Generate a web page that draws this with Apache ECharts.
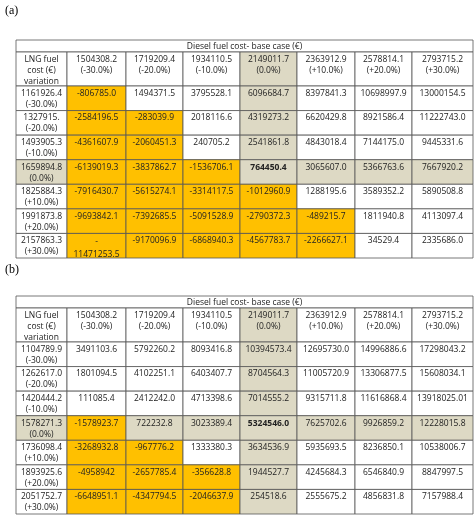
<!DOCTYPE html>
<html>
<head>
<meta charset="utf-8">
<script src="https://cdn.jsdelivr.net/npm/echarts@6/dist/echarts.min.js"></script>
<style>html,body{margin:0;padding:0;background:#fff}#chart{width:474px;height:516px}</style>
</head>
<body>
<div id="chart"></div>
<script>
var title = 'Diesel fuel cost- base case (€)';
var corner = 'LNG fuel\ncost (€)\nvariation';
var dieselCols = ['1504308.2\n(-30.0%)', '1719209.4\n(-20.0%)', '1934110.5\n(-10.0%)', '2149011.7\n(0.0%)',
    '2363912.9\n(+10.0%)', '2578814.1\n(+20.0%)', '2793715.2\n(+30.0%)'];
var lngRowsA = ['1161926.4\n(-30.0%)', '1327915.\n(-20.0%)', '1493905.3\n(-10.0%)', '1659894.8\n(0.0%)',
    '1825884.3\n(+10.0%)', '1991873.8\n(+20.0%)', '2157863.3\n(+30.0%)'];
var valuesA = [
    ['-806785.0', '1494371.5', '3795528.1', '6096684.7', '8397841.3', '10698997.9', '13000154.5'],
    ['-2584196.5', '-283039.9', '2018116.6', '4319273.2', '6620429.8', '8921586.4', '11222743.0'],
    ['-4361607.9', '-2060451.3', '240705.2', '2541861.8', '4843018.4', '7144175.0', '9445331.6'],
    ['-6139019.3', '-3837862.7', '-1536706.1', '764450.4', '3065607.0', '5366763.6', '7667920.2'],
    ['-7916430.7', '-5615274.1', '-3314117.5', '-1012960.9', '1288195.6', '3589352.2', '5890508.8'],
    ['-9693842.1', '-7392685.5', '-5091528.9', '-2790372.3', '-489215.7', '1811940.8', '4113097.4'],
    ['-11471253.5', '-9170096.9', '-6868940.3', '-4567783.7', '-2266627.1', '34529.4', '2335686.0']
];
var lngRowsB = ['1104789.9\n(-30.0%)', '1262617.0\n(-20.0%)', '1420444.2\n(-10.0%)', '1578271.3\n(0.0%)',
    '1736098.4\n(+10.0%)', '1893925.6\n(+20.0%)', '2051752.7\n(+30.0%)'];
var valuesB = [
    ['3491103.6', '5792260.2', '8093416.8', '10394573.4', '12695730.0', '14996886.6', '17298043.2'],
    ['1801094.5', '4102251.1', '6403407.7', '8704564.3', '11005720.9', '13306877.5', '15608034.1'],
    ['111085.4', '2412242.0', '4713398.6', '7014555.2', '9315711.8', '11616868.4', '13918025.01'],
    ['-1578923.7', '722232.8', '3023389.4', '5324546.0', '7625702.6', '9926859.2', '12228015.8'],
    ['-3268932.8', '-967776.2', '1333380.3', '3634536.9', '5935693.5', '8236850.1', '10538006.7'],
    ['-4958942', '-2657785.4', '-356628.8', '1944527.7', '4245684.3', '6546840.9', '8847997.5'],
    ['-6648951.1', '-4347794.5', '-2046637.9', '254518.6', '2555675.2', '4856831.8', '7157988.4']
];

// layout (table units = px inside each grid)
var xEdges = [0, 51, 110, 167, 224, 281, 339, 396, 457];
var H = 218;
var yEdges = [0, 12, 46];
for (var i = 1; i <= 7; i++) yEdges.push(46 + i * (H - 46) / 7);
var ORANGE = '#ffc000', GREY = '#ddd9c4';

function buildCells(rows, values) {
    var cells = [];
    cells.push({c0: 0, c1: 8, r: 0, text: title, fill: '#fff'});
    cells.push({c0: 0, c1: 1, r: 1, text: corner, fill: '#fff'});
    dieselCols.forEach(function (t, j) {
        cells.push({c0: j + 1, c1: j + 2, r: 1, text: t, fill: j == 3 ? GREY : '#fff'});
    });
    rows.forEach(function (t, i) {
        cells.push({c0: 0, c1: 1, r: i + 2, text: t, fill: i == 3 ? GREY : '#fff'});
        values[i].forEach(function (v, j) {
            var neg = parseFloat(v) < 0;
            var txt = v;
            if (v.length > 10 && neg) txt = '-\n' + v.slice(1);
            cells.push({c0: j + 1, c1: j + 2, r: i + 2, text: txt, long: txt != v,
                fill: neg ? ORANGE : ((i == 3 || j == 3) ? GREY : '#fff'),
                bold: i == 3 && j == 3});
        });
    });
    return cells;
}

function tableSeries(idx, cells) {
    return {
        type: 'custom',
        xAxisIndex: idx, yAxisIndex: idx,
        data: cells.map(function (c) { return [xEdges[c.c0], yEdges[c.r]]; }),
        renderItem: function (params, api) {
            var c = cells[params.dataIndex];
            var p0 = api.coord([xEdges[c.c0], yEdges[c.r]]);
            var p1 = api.coord([xEdges[c.c1], yEdges[c.r + 1]]);
            var w = p1[0] - p0[0], h = p1[1] - p0[1];
            return {
                type: 'group',
                children: [{
                    type: 'rect',
                    shape: {x: p0[0], y: p0[1], width: w, height: h},
                    style: {fill: c.fill, stroke: '#555', lineWidth: 0.8}
                }, {
                    type: 'text',
                    style: {
                        x: p0[0] + w / 2, y: p0[1] + (c.r == 0 ? 1 : 2),
                        text: c.text, align: 'center', verticalAlign: 'top',
                        font: (c.bold ? 'bold ' : '') + '8.5px "Open Sans", sans-serif',
                        lineHeight: c.long ? 13 : 11, fill: '#222'
                    }
                }]
            };
        }
    };
}

var myChart = echarts.init(document.getElementById('chart'));
function axX(i) { return {type: 'value', gridIndex: i, min: 0, max: 457, show: false}; }
function axY(i) { return {type: 'value', gridIndex: i, min: 0, max: H, inverse: true, show: false}; }
var option = {
    animation: false,
    title: [
        {text: '(a)', left: 0, top: 0, textStyle: {fontFamily: 'Liberation Serif', fontWeight: 'normal', fontSize: 12, color: '#000'}},
        {text: '(b)', left: 0, top: 259, textStyle: {fontFamily: 'Liberation Serif', fontWeight: 'normal', fontSize: 12, color: '#000'}}
    ],
    grid: [
        {left: 16, top: 40, width: 457, height: H},
        {left: 16, top: 296, width: 457, height: H}
    ],
    xAxis: [axX(0), axX(1)],
    yAxis: [axY(0), axY(1)],
    series: [tableSeries(0, buildCells(lngRowsA, valuesA)), tableSeries(1, buildCells(lngRowsB, valuesB))]
};
option && myChart.setOption(option);
window.addEventListener("resize", function () {
    myChart.resize();
});
</script>
</body>
</html>
